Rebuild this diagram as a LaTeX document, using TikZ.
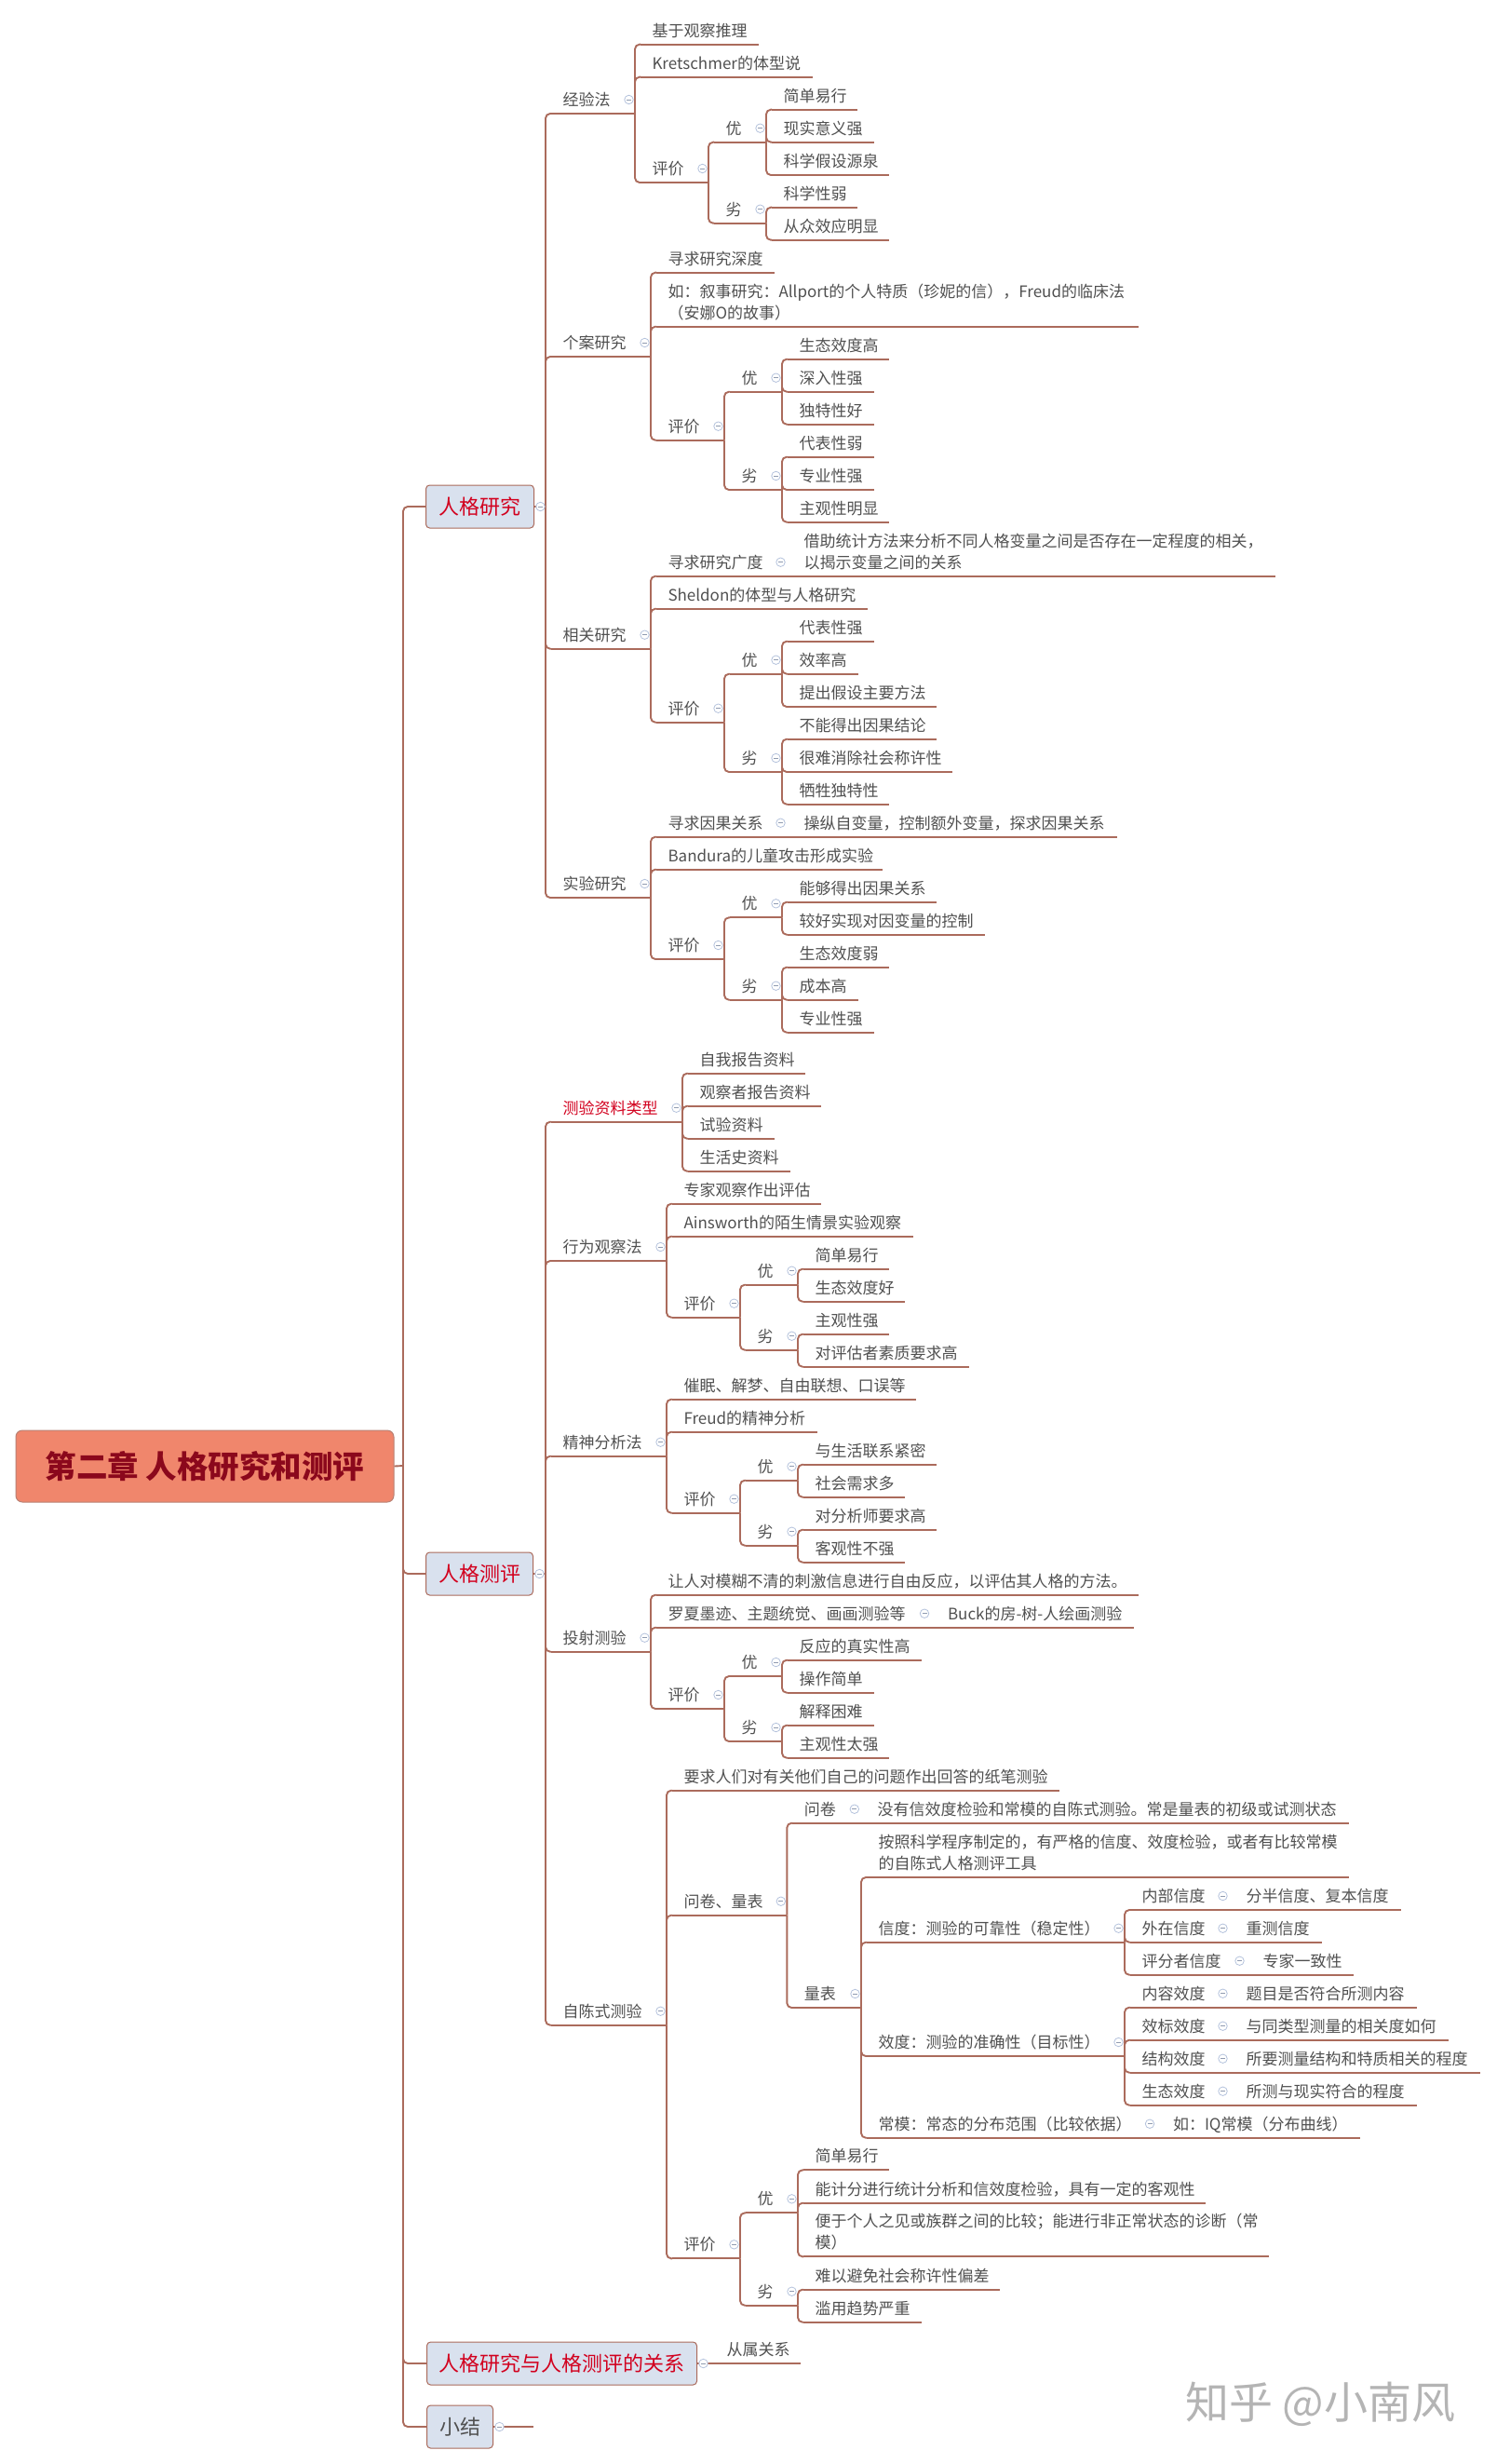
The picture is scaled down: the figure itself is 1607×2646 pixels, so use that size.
\documentclass[tikz,border=0pt]{standalone}
\usepackage{fontspec}
\setmainfont{Noto Sans CJK SC}
\definecolor{linecolor}{HTML}{AB6B5C}
\definecolor{textgrey}{HTML}{505050}
\definecolor{topicred}{HTML}{D2001E}
\definecolor{boxblue}{HTML}{D9E1EE}
\definecolor{foldblue}{HTML}{B4C2DC}
\definecolor{rootfill}{HTML}{F0866C}
\definecolor{roottext}{HTML}{8B081C}
\definecolor{markgrey}{HTML}{B4B4B4}

\begin{document}
\begin{tikzpicture}[x=1pt,y=-1pt,
     link/.style={draw=linecolor,line width=1.9pt,rounded corners=5pt},
     foldmark/.style={circle,draw=foldblue,fill=white,line width=0.8pt,minimum size=9.5pt,inner sep=0pt,font=\fontsize{2}{2}\selectfont,text=foldblue!80!black},
     fold/.style={append after command={node[foldmark,xshift=-6.5pt,yshift=15pt] (\tikzlastnode-f) at (\tikzlastnode.south east) {\rule{5pt}{0.8pt}}}},
     topic/.style={anchor=south west,inner xsep=0pt,inner ysep=1.6pt,outer sep=0pt,text width=#1,align=left,text=textgrey,
       font=\fontsize{17}{23}\selectfont,
       execute at begin node={\leftskip=18.5pt\strut},execute at end node=\strut,
       append after command={([xshift=6pt]\tikzlastnode.south west) edge[link] (\tikzlastnode.south east)}},
     bigbox/.style={rectangle,draw=linecolor,line width=1pt,rounded corners=4pt,fill=boxblue,anchor=west,minimum height=46pt,minimum width=#1,inner sep=0pt,text=topicred,font=\fontsize{22}{26}\selectfont}]
     \useasboundingbox (0,0) rectangle (1607,2646);

     % centre and first level
     \node[rectangle,draw=linecolor!85,line width=1pt,rounded corners=7pt,fill=rootfill,minimum width=406pt,minimum height=77pt,text=roottext,font=\fontsize{33.5}{38}\selectfont\bfseries] (Chapitre) at (220,1574.5) {第二章 人格研究和测评};
     \coordinate (ChapitreJoint) at (433,1574);
     \node[bigbox=116pt] (YanJiu) at (457,544) {人格研究};
     \node[bigbox=115pt] (CePing) at (457,1690) {人格测评};
     \node[bigbox=290pt] (GuanXi) at (458,2538) {人格研究与人格测评的关系};
     \node[bigbox=71pt,text=textgrey] (XiaoJie) at (458,2606) {小结};
     \coordinate (XiaoJieEnd) at (573,2606);
     \coordinate (YanJiuJoint) at (586,544);
     \coordinate (CePingJoint) at (586,1690);

     % empirical method
     \node[topic=96pt,fold] (JingYan) at (586,122) {经验法};
     \node[topic=133pt] (JingYanA) at (682,47.7) {基于观察推理};
     \node[topic=191pt] (JingYanB) at (682,82.7) {Kretschmer的体型说};
     \node[topic=79pt,fold] (JingYanPing) at (682,196) {评价};
     \node[topic=62pt,fold] (JingYanYou) at (761,152.7) {优};
     \node[topic=98pt] (JingYanYouA) at (823,117.7) {简单易行};
     \node[topic=116pt] (JingYanYouB) at (823,152.7) {现实意义强};
     \node[topic=132pt] (JingYanYouC) at (823,188) {科学假设源泉};
     \node[topic=62pt,fold] (JingYanLie) at (761,239.7) {劣};
     \node[topic=98pt] (JingYanLieA) at (823,222.7) {科学性弱};
     \node[topic=132pt] (JingYanLieB) at (823,257.7) {从众效应明显};
     \foreach \c in {JingYanA,JingYanB,JingYanPing} \draw[link] (JingYan.south east) |- ([xshift=6pt]\c.south west);
     \foreach \c in {JingYanYou,JingYanLie} \draw[link] (JingYanPing.south east) |- ([xshift=6pt]\c.south west);
     \foreach \c in {JingYanYouA,JingYanYouB,JingYanYouC} \draw[link] (JingYanYou.south east) |- ([xshift=6pt]\c.south west);
     \foreach \c in {JingYanLieA,JingYanLieB} \draw[link] (JingYanLie.south east) |- ([xshift=6pt]\c.south west);

     % case study
     \node[topic=113pt,fold] (GeAn) at (586,383) {个案研究};
     \node[topic=133pt] (GeAnA) at (699,292.7) {寻求研究深度};
     \node[topic=524pt] (GeAnB) at (699,350.7) {如：叙事研究：Allport的个人特质（珍妮的信），Freud的临床法\\（安娜O的故事）};
     \node[topic=79pt,fold] (GeAnPing) at (699,472.7) {评价};
     \node[topic=62pt,fold] (GeAnYou) at (778,420.7) {优};
     \node[topic=115pt] (GeAnYouA) at (840,385.7) {生态效度高};
     \node[topic=99pt] (GeAnYouB) at (840,420.7) {深入性强};
     \node[topic=99pt] (GeAnYouC) at (840,455.7) {独特性好};
     \node[topic=62pt,fold] (GeAnLie) at (778,526) {劣};
     \node[topic=99pt] (GeAnLieA) at (840,490.7) {代表性弱};
     \node[topic=99pt] (GeAnLieB) at (840,526) {专业性强};
     \node[topic=115pt] (GeAnLieC) at (840,560.7) {主观性明显};
     \foreach \c in {GeAnA,GeAnB,GeAnPing} \draw[link] (GeAn.south east) |- ([xshift=6pt]\c.south west);
     \foreach \c in {GeAnYou,GeAnLie} \draw[link] (GeAnPing.south east) |- ([xshift=6pt]\c.south west);
     \foreach \c in {GeAnYouA,GeAnYouB,GeAnYouC} \draw[link] (GeAnYou.south east) |- ([xshift=6pt]\c.south west);
     \foreach \c in {GeAnLieA,GeAnLieB,GeAnLieC} \draw[link] (GeAnLie.south east) |- ([xshift=6pt]\c.south west);

     % correlational study
     \node[topic=113pt,fold] (XiangGuan) at (586,696.7) {相关研究};
     \node[topic=146pt,fold] (XiangGuanA) at (699,618.7) {寻求研究广度};
     \node[topic=525pt] (XiangGuanAA) at (845,618.7) {借助统计方法来分析不同人格变量之间是否存在一定程度的相关，\\以揭示变量之间的关系};
     \node[topic=233pt] (XiangGuanB) at (699,653.7) {Sheldon的体型与人格研究};
     \node[topic=79pt,fold] (XiangGuanPing) at (699,775.7) {评价};
     \node[topic=62pt,fold] (XiangGuanYou) at (778,723.7) {优};
     \node[topic=99pt] (XiangGuanYouA) at (840,688.7) {代表性强};
     \node[topic=81.5pt] (XiangGuanYouB) at (840,723.7) {效率高};
     \node[topic=166pt] (XiangGuanYouC) at (840,759) {提出假设主要方法};
     \node[topic=62pt,fold] (XiangGuanLie) at (778,829) {劣};
     \node[topic=166pt] (XiangGuanLieA) at (840,793.7) {不能得出因果结论};
     \node[topic=183pt] (XiangGuanLieB) at (840,829) {很难消除社会称许性};
     \node[topic=115pt] (XiangGuanLieC) at (840,863.7) {牺牲独特性};
     \foreach \c in {XiangGuanA,XiangGuanB,XiangGuanPing} \draw[link] (XiangGuan.south east) |- ([xshift=6pt]\c.south west);
     \draw[link] (XiangGuanA.south east) -- ([xshift=6pt]XiangGuanAA.south west);
     \foreach \c in {XiangGuanYou,XiangGuanLie} \draw[link] (XiangGuanPing.south east) |- ([xshift=6pt]\c.south west);
     \foreach \c in {XiangGuanYouA,XiangGuanYouB,XiangGuanYouC} \draw[link] (XiangGuanYou.south east) |- ([xshift=6pt]\c.south west);
     \foreach \c in {XiangGuanLieA,XiangGuanLieB,XiangGuanLieC} \draw[link] (XiangGuanLie.south east) |- ([xshift=6pt]\c.south west);

     % experimental study
     \node[topic=113pt,fold] (ShiYan) at (586,964) {实验研究};
     \node[topic=146pt,fold] (ShiYanA) at (699,898.7) {寻求因果关系};
     \node[topic=355pt] (ShiYanAA) at (845,898.7) {操纵自变量，控制额外变量，探求因果关系};
     \node[topic=249pt] (ShiYanB) at (699,933.7) {Bandura的儿童攻击形成实验};
     \node[topic=79pt,fold] (ShiYanPing) at (699,1030) {评价};
     \node[topic=62pt,fold] (ShiYanYou) at (778,985.3) {优};
     \node[topic=166pt] (ShiYanYouA) at (840,968.7) {能够得出因果关系};
     \node[topic=217.6pt] (ShiYanYouB) at (840,1003.7) {较好实现对因变量的控制};
     \node[topic=62pt,fold] (ShiYanLie) at (778,1073.7) {劣};
     \node[topic=115pt] (ShiYanLieA) at (840,1038.7) {生态效度弱};
     \node[topic=81.5pt] (ShiYanLieB) at (840,1073.7) {成本高};
     \node[topic=99pt] (ShiYanLieC) at (840,1108.7) {专业性强};
     \foreach \c in {ShiYanA,ShiYanB,ShiYanPing} \draw[link] (ShiYan.south east) |- ([xshift=6pt]\c.south west);
     \draw[link] (ShiYanA.south east) -- ([xshift=6pt]ShiYanAA.south west);
     \foreach \c in {ShiYanYou,ShiYanLie} \draw[link] (ShiYanPing.south east) |- ([xshift=6pt]\c.south west);
     \foreach \c in {ShiYanYouA,ShiYanYouB} \draw[link] (ShiYanYou.south east) |- ([xshift=6pt]\c.south west);
     \foreach \c in {ShiYanLieA,ShiYanLieB,ShiYanLieC} \draw[link] (ShiYanLie.south east) |- ([xshift=6pt]\c.south west);

     % data types
     \node[topic=147pt,fold,text=topicred] (ZiLiao) at (586,1204.7) {测验资料类型};
     \node[topic=132pt] (ZiLiaoA) at (733,1152.7) {自我报告资料};
     \node[topic=149.4pt] (ZiLiaoB) at (733,1187.7) {观察者报告资料};
     \node[topic=98.6pt] (ZiLiaoC) at (733,1222.7) {试验资料};
     \node[topic=115.7pt] (ZiLiaoD) at (733,1257.7) {生活史资料};
     \foreach \c in {ZiLiaoA,ZiLiaoB,ZiLiaoC,ZiLiaoD} \draw[link] (ZiLiao.south east) |- ([xshift=6pt]\c.south west);

     % behaviour observation
     \node[topic=130pt,fold] (XingWei) at (586,1354) {行为观察法};
     \node[topic=166.4pt] (XingWeiA) at (716,1292.7) {专家观察作出评估};
     \node[topic=264.5pt] (XingWeiB) at (716,1327.7) {Ainsworth的陌生情景实验观察};
     \node[topic=79pt,fold] (XingWeiPing) at (716,1414.7) {评价};
     \node[topic=62pt,fold] (XingWeiYou) at (795,1379.7) {优};
     \node[topic=98pt] (XingWeiYouA) at (857,1362.7) {简单易行};
     \node[topic=115.4pt] (XingWeiYouB) at (857,1397.7) {生态效度好};
     \node[topic=62pt,fold] (XingWeiLie) at (795,1449.7) {劣};
     \node[topic=98pt] (XingWeiLieA) at (857,1432.7) {主观性强};
     \node[topic=183.5pt] (XingWeiLieB) at (857,1467.7) {对评估者素质要求高};
     \foreach \c in {XingWeiA,XingWeiB,XingWeiPing} \draw[link] (XingWei.south east) |- ([xshift=6pt]\c.south west);
     \foreach \c in {XingWeiYou,XingWeiLie} \draw[link] (XingWeiPing.south east) |- ([xshift=6pt]\c.south west);
     \foreach \c in {XingWeiYouA,XingWeiYouB} \draw[link] (XingWeiYou.south east) |- ([xshift=6pt]\c.south west);
     \foreach \c in {XingWeiLieA,XingWeiLieB} \draw[link] (XingWeiLie.south east) |- ([xshift=6pt]\c.south west);

     % psychoanalysis
     \node[topic=130pt,fold] (JingShen) at (586,1563.7) {精神分析法};
     \node[topic=268pt] (JingShenA) at (716,1502.7) {催眠、解梦、自由联想、口误等};
     \node[topic=161.6pt] (JingShenB) at (716,1537.7) {Freud的精神分析};
     \node[topic=79pt,fold] (JingShenPing) at (716,1624.7) {评价};
     \node[topic=62pt,fold] (JingShenYou) at (795,1589.7) {优};
     \node[topic=149pt] (JingShenYouA) at (857,1572.7) {与生活联系紧密};
     \node[topic=115.4pt] (JingShenYouB) at (857,1607.7) {社会需求多};
     \node[topic=62pt,fold] (JingShenLie) at (795,1659.7) {劣};
     \node[topic=149pt] (JingShenLieA) at (857,1642.7) {对分析师要求高};
     \node[topic=115.4pt] (JingShenLieB) at (857,1677.7) {客观性不强};
     \foreach \c in {JingShenA,JingShenB,JingShenPing} \draw[link] (JingShen.south east) |- ([xshift=6pt]\c.south west);
     \foreach \c in {JingShenYou,JingShenLie} \draw[link] (JingShenPing.south east) |- ([xshift=6pt]\c.south west);
     \foreach \c in {JingShenYouA,JingShenYouB} \draw[link] (JingShenYou.south east) |- ([xshift=6pt]\c.south west);
     \foreach \c in {JingShenLieA,JingShenLieB} \draw[link] (JingShenLie.south east) |- ([xshift=6pt]\c.south west);

     % projective tests
     \node[topic=113pt,fold] (TouShe) at (586,1773.7) {投射测验};
     \node[topic=524pt] (TouSheA) at (699,1712.7) {让人对模糊不清的刺激信息进行自由反应，以评估其人格的方法。};
     \node[topic=300.5pt,fold] (TouSheB) at (699,1747.7) {罗夏墨迹、主题统觉、画画测验等};
     \node[topic=218.5pt] (TouSheBB) at (999.5,1747.7) {Buck的房-树-人绘画测验};
     \node[topic=79pt,fold] (TouShePing) at (699,1835) {评价};
     \node[topic=62pt,fold] (TouSheYou) at (778,1800) {优};
     \node[topic=149.6pt] (TouSheYouA) at (840,1782.7) {反应的真实性高};
     \node[topic=99pt] (TouSheYouB) at (840,1817.7) {操作简单};
     \node[topic=62pt,fold] (TouSheLie) at (778,1870) {劣};
     \node[topic=99pt] (TouSheLieA) at (840,1852.7) {解释困难};
     \node[topic=115pt] (TouSheLieB) at (840,1887.7) {主观性太强};
     \foreach \c in {TouSheA,TouSheB,TouShePing} \draw[link] (TouShe.south east) |- ([xshift=6pt]\c.south west);
     \draw[link] (TouSheB.south east) -- ([xshift=6pt]TouSheBB.south west);
     \foreach \c in {TouSheYou,TouSheLie} \draw[link] (TouShePing.south east) |- ([xshift=6pt]\c.south west);
     \foreach \c in {TouSheYouA,TouSheYouB} \draw[link] (TouSheYou.south east) |- ([xshift=6pt]\c.south west);
     \foreach \c in {TouSheLieA,TouSheLieB} \draw[link] (TouSheLie.south east) |- ([xshift=6pt]\c.south west);

     % self-report tests
     \node[topic=130pt,fold] (ZiChen) at (586,2174.7) {自陈式测验};
     \node[topic=421.6pt] (ZiChenA) at (716,1922.7) {要求人们对有关他们自己的问题作出回答的纸笔测验};
     \node[topic=129.3pt,fold] (ZiChenB) at (716,2056.7) {问卷、量表};
     \node[topic=79pt,fold] (WenJuan) at (845.3,1957.7) {问卷};
     \node[topic=524.5pt] (WenJuanA) at (924,1957.7) {没有信效度检验和常模的自陈式测验。常是量表的初级或试测状态};
     \node[topic=79.7pt,fold] (LiangBiao) at (845.3,2156) {量表};
     \node[topic=523.5pt] (LiangBiaoA) at (925,2016) {按照科学程序制定的，有严格的信度、效度检验，或者有比较常模\\的自陈式人格测评工具};
     \node[topic=283pt,fold] (XinDu) at (925,2085.7) {信度：测验的可靠性（稳定性）};
     \node[topic=112pt,fold] (XinDuA) at (1208,2051) {内部信度};
     \node[topic=184.6pt] (XinDuAA) at (1320,2051) {分半信度、复本信度};
     \node[topic=112pt,fold] (XinDuB) at (1208,2085.7) {外在信度};
     \node[topic=99.7pt] (XinDuBB) at (1320,2085.7) {重测信度};
     \node[topic=130pt,fold] (XinDuC) at (1208,2120.7) {评分者信度};
     \node[topic=115.6pt] (XinDuCC) at (1338,2120.7) {专家一致性};
     \node[topic=283pt,fold] (XiaoDu) at (925,2208) {效度：测验的准确性（目标性）};
     \node[topic=112pt,fold] (XiaoDuA) at (1208,2155.7) {内容效度};
     \node[topic=201.6pt] (XiaoDuAA) at (1320,2155.7) {题目是否符合所测内容};
     \node[topic=112pt,fold] (XiaoDuB) at (1208,2190.7) {效标效度};
     \node[topic=235.5pt] (XiaoDuBB) at (1320,2190.7) {与同类型测量的相关度如何};
     \node[topic=112pt,fold] (XiaoDuC) at (1208,2225.7) {结构效度};
     \node[topic=270pt] (XiaoDuCC) at (1320,2225.7) {所要测量结构和特质相关的程度};
     \node[topic=112pt,fold] (XiaoDuD) at (1208,2260.7) {生态效度};
     \node[topic=201.6pt] (XiaoDuDD) at (1320,2260.7) {所测与现实符合的程度};
     \node[topic=316.5pt,fold] (ChangMo) at (925,2295.7) {常模：常态的分布范围（比较依据）};
     \node[topic=219.5pt] (ChangMoA) at (1241.5,2295.7) {如：IQ常模（分布曲线）};
     \node[topic=79pt,fold] (ZiChenPing) at (716,2425.3) {评价};
     \node[topic=62pt,fold] (ZiChenYou) at (795,2376.3) {优};
     \node[topic=98pt] (ZiChenYouA) at (857,2330.3) {简单易行};
     \node[topic=438.4pt] (ZiChenYouB) at (857,2365.7) {能计分进行统计分析和信效度检验，具有一定的客观性};
     \node[topic=506.4pt] (ZiChenYouC) at (857,2423.3) {便于个人之见或族群之间的比较；能进行非正常状态的诊断（常\\模）};
     \node[topic=62pt,fold] (ZiChenLie) at (795,2475.7) {劣};
     \node[topic=217pt] (ZiChenLieA) at (857,2458.7) {难以避免社会称许性偏差};
     \node[topic=132.6pt] (ZiChenLieB) at (857,2493.7) {滥用趋势严重};
     \foreach \c in {ZiChenA,ZiChenB,ZiChenPing} \draw[link] (ZiChen.south east) |- ([xshift=6pt]\c.south west);
     \foreach \c in {WenJuan,LiangBiao} \draw[link] (ZiChenB.south east) |- ([xshift=6pt]\c.south west);
     \draw[link] (WenJuan.south east) -- ([xshift=6pt]WenJuanA.south west);
     \foreach \c in {LiangBiaoA,XinDu,XiaoDu,ChangMo} \draw[link] (LiangBiao.south east) |- ([xshift=6pt]\c.south west);
     \foreach \c in {XinDuA,XinDuB,XinDuC} \draw[link] (XinDu.south east) |- ([xshift=6pt]\c.south west);
     \foreach \c in {XiaoDuA,XiaoDuB,XiaoDuC,XiaoDuD} \draw[link] (XiaoDu.south east) |- ([xshift=6pt]\c.south west);
     \foreach \c/\d in {XinDuA/XinDuAA,XinDuB/XinDuBB,XinDuC/XinDuCC,XiaoDuA/XiaoDuAA,XiaoDuB/XiaoDuBB,XiaoDuC/XiaoDuCC,XiaoDuD/XiaoDuDD,ChangMo/ChangMoA} \draw[link] (\c.south east) -- ([xshift=6pt]\d.south west);
     \foreach \c in {ZiChenYou,ZiChenLie} \draw[link] (ZiChenPing.south east) |- ([xshift=6pt]\c.south west);
     \foreach \c in {ZiChenYouA,ZiChenYouB,ZiChenYouC} \draw[link] (ZiChenYou.south east) |- ([xshift=6pt]\c.south west);
     \foreach \c in {ZiChenLieA,ZiChenLieB} \draw[link] (ZiChenLie.south east) |- ([xshift=6pt]\c.south west);

     % relation topic
     \node[topic=108pt] (CongShu) at (752,2538) {\hspace*{10pt}从属关系};
     \node[anchor=center,text=markgrey,font=\fontsize{47}{52}\selectfont] (ZhiHu) at (1418,2582) {知乎 @小南风};

     % trunks
     \draw[link] (Chapitre.east) -- (ChapitreJoint);
     \foreach \c in {YanJiu,CePing,GuanXi,XiaoJie} \draw[link] (ChapitreJoint) |- (\c.west);
     \draw[link] (YanJiu.east) -- (YanJiuJoint);
     \foreach \c in {JingYan,GeAn,XiangGuan,ShiYan} \draw[link] (YanJiuJoint) |- ([xshift=6pt]\c.south west);
     \draw[link] (CePing.east) -- (CePingJoint);
     \foreach \c in {ZiLiao,XingWei,JingShen,TouShe,ZiChen} \draw[link] (CePingJoint) |- ([xshift=6pt]\c.south west);
     \draw[link] (GuanXi.east) -- ([xshift=6pt]CongShu.south west);
     \draw[link] (XiaoJie.east) -- (XiaoJieEnd);
     \foreach \c in {YanJiu,CePing,GuanXi,XiaoJie} \node[foldmark] (\c-f) at ([xshift=6.5pt]\c.east) {\rule{5pt}{0.8pt}};
\end{tikzpicture}
\end{document}
